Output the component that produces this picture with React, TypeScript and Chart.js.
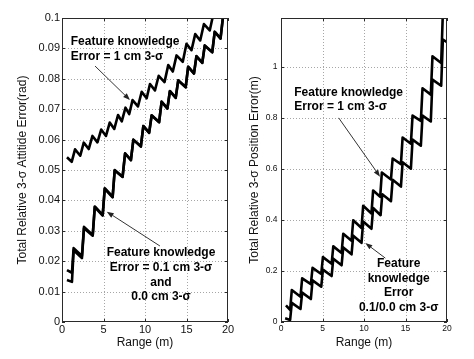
import React, { useEffect, useRef } from "react";
import { Chart, registerables } from "chart.js";

Chart.register(...registerables);

const FONT = "'Liberation Sans', Arial, Helvetica, sans-serif";

// ---------- shared axis data ----------
const RANGE_TICKS = [0, 5, 10, 15, 20];
const RANGE_TICK_LABELS = ["0", "5", "10", "15", "20"];

// ---------- left panel: attitude error (rad) ----------
const ATT_TICKS = [0, 0.01, 0.02, 0.03, 0.04, 0.05, 0.06, 0.07, 0.08, 0.09, 0.1];
const ATT_TICK_LABELS = ["0", "0.01", "0.02", "0.03", "0.04", "0.05", "0.06", "0.07", "0.08", "0.09", "0.1"];

// Feature knowledge error = 1 cm 3-sigma
const ATT_1CM_RANGE = [0.6, 1.17, 1.57, 2.2, 2.62, 3.22, 3.67, 4.27, 4.72, 5.3, 5.75, 6.3, 6.75, 7.2, 7.65, 8.1, 8.5, 9.15, 9.6, 10.2, 10.6, 11.2, 11.65, 12.35, 12.8, 13.35, 13.8, 14.55, 15.0, 15.6, 16.05, 16.65, 17.1, 17.8, 18.25];
const ATT_1CM_ERR = [0.0542, 0.0527, 0.0568, 0.0547, 0.059, 0.0569, 0.0612, 0.0591, 0.0633, 0.0612, 0.0656, 0.0635, 0.0681, 0.066, 0.0705, 0.0684, 0.073, 0.0709, 0.0757, 0.0736, 0.0783, 0.0762, 0.081, 0.0789, 0.0845, 0.0824, 0.0877, 0.0856, 0.0915, 0.0894, 0.0947, 0.0926, 0.098, 0.0959, 0.1015];

// Feature knowledge error = 0.1 cm 3-sigma
const ATT_01CM_RANGE = [0.6, 1.2, 1.4, 2.4, 2.65, 3.7, 3.95, 4.9, 5.15, 6.1, 6.35, 7.3, 7.6, 8.3, 8.6, 9.5, 9.8, 10.5, 10.8, 11.7, 12.0, 12.7, 13.0, 13.7, 14.0, 14.9, 15.2, 15.9, 16.2, 16.9, 17.2, 18.1, 18.4, 19.1, 19.4];
const ATT_01CM_ERR = [0.0171, 0.0162, 0.0243, 0.0217, 0.0313, 0.0286, 0.038, 0.0352, 0.044, 0.0412, 0.05, 0.0478, 0.0555, 0.0533, 0.06, 0.0578, 0.0645, 0.0623, 0.068, 0.0658, 0.0725, 0.0703, 0.076, 0.0738, 0.0795, 0.0773, 0.084, 0.0818, 0.0875, 0.0853, 0.091, 0.0888, 0.0955, 0.0933, 0.1005];

// Feature knowledge error = 0.0 cm 3-sigma
const ATT_00CM_RANGE = [0.6, 1.2, 1.4, 2.4, 2.65, 3.7, 3.95, 4.9, 5.15, 6.1, 6.35, 7.3, 7.6, 8.3, 8.6, 9.5, 9.8, 10.5, 10.8, 11.7, 12.0, 12.7, 13.0, 13.7, 14.0, 14.9, 15.2, 15.9, 16.2, 16.9, 17.2, 18.1, 18.4, 19.1, 19.4];
const ATT_00CM_ERR = [0.0138, 0.0132, 0.0236, 0.021, 0.0308, 0.0284, 0.0378, 0.035, 0.0438, 0.041, 0.0498, 0.0477, 0.0554, 0.0532, 0.0599, 0.0577, 0.0644, 0.0622, 0.0679, 0.0657, 0.0724, 0.0702, 0.0759, 0.0737, 0.0794, 0.0772, 0.0839, 0.0817, 0.0874, 0.0852, 0.0909, 0.0887, 0.0954, 0.0932, 0.1004];

// ---------- right panel: position error (m) ----------
const POS_TICKS = [0, 0.2, 0.4, 0.6, 0.8, 1];
const POS_TICK_LABELS = ["0", "0.2", "0.4", "0.6", "0.8", "1"];

const POS_1CM_RANGE = [0.6, 1.1, 1.3, 2.35, 2.55, 3.6, 3.8, 4.85, 5.05, 6.1, 6.3, 7.3, 7.5, 8.5, 8.7, 9.7, 9.9, 10.9, 11.1, 11.95, 12.15, 13.25, 13.45, 14.45, 14.65, 15.65, 15.85, 16.85, 17.05, 18.05, 18.25, 19.3, 19.5];
const POS_1CM_ERR = [0.065, 0.047, 0.125, 0.099, 0.171, 0.148, 0.212, 0.188, 0.254, 0.228, 0.296, 0.27, 0.345, 0.318, 0.398, 0.368, 0.455, 0.425, 0.515, 0.49, 0.585, 0.558, 0.64, 0.618, 0.722, 0.698, 0.808, 0.787, 0.915, 0.89, 1.04, 1.014, 1.21];

const POS_01CM_RANGE = [0.5, 1.1, 1.3, 2.35, 2.55, 3.6, 3.8, 4.85, 5.05, 6.1, 6.3, 7.3, 7.5, 8.5, 8.7, 9.7, 9.9, 10.9, 11.1, 12.0, 12.2, 13.25, 13.45, 14.45, 14.65, 15.65, 15.85, 16.85, 17.05, 18.05, 18.25, 19.3, 19.5, 20.0];
const POS_01CM_ERR = [0.0145, 0.008, 0.075, 0.051, 0.115, 0.09, 0.163, 0.138, 0.205, 0.18, 0.248, 0.222, 0.292, 0.265, 0.338, 0.31, 0.393, 0.365, 0.446, 0.418, 0.5, 0.473, 0.557, 0.53, 0.625, 0.6, 0.714, 0.69, 0.808, 0.785, 0.949, 0.925, 1.106, 1.095];

type Ann = { lines: string[]; x: number; y: number; align: "left" | "center"; lh: number };
type Arrow = { from: [number, number]; to: [number, number] };

const LEFT_ANNOTATIONS: Ann[] = [
  { lines: ["Feature knowledge", "Error = 1 cm 3-σ"], x: 1.05, y: 0.0921, align: "left", lh: 15 },
  { lines: ["Feature knowledge", "Error = 0.1 cm 3-σ", "and", "0.0 cm 3-σ"], x: 11.93, y: 0.0228, align: "center", lh: 14.8 },
];
const LEFT_ARROWS: Arrow[] = [
  { from: [3.98, 0.0842], to: [8.19, 0.073] },
  { from: [11.8, 0.025], to: [5.39, 0.0363] },
];
const RIGHT_ANNOTATIONS: Ann[] = [
  { lines: ["Feature knowledge", "Error = 1 cm 3-σ"], x: 1.6, y: 0.898, align: "left", lh: 14 },
  { lines: ["Feature", "knowledge", "Error", "0.1/0.0 cm 3-σ"], x: 14.18, y: 0.2275, align: "center", lh: 14.6 },
];
const RIGHT_ARROWS: Arrow[] = [
  { from: [6.95, 0.799], to: [11.93, 0.569] },
  { from: [12.57, 0.25], to: [10.16, 0.309] },
];

function pts(xs: number[], ys: number[]) {
  return xs.map((x, i) => ({ x, y: ys[i] }));
}

const matlabPlugin = {
  id: "matlab",
  beforeDatasetsDraw(chart: any) {
    const { ctx, chartArea: a } = chart;
    const xs = chart.scales.x;
    const ys = chart.scales.y;
    ctx.save();
    ctx.strokeStyle = "#a6a6a6";
    ctx.lineWidth = 1;
    ctx.setLineDash([1, 2]);
    for (const t of xs.ticks) {
      const px = Math.round(xs.getPixelForValue(t.value)) + 0.5;
      if (px <= a.left + 1.5 || px >= a.right - 1.5) continue;
      ctx.beginPath();
      ctx.moveTo(px, a.top);
      ctx.lineTo(px, a.bottom);
      ctx.stroke();
    }
    for (const t of ys.ticks) {
      const py = Math.round(ys.getPixelForValue(t.value)) + 0.5;
      if (py <= a.top + 1.5 || py >= a.bottom - 1.5) continue;
      ctx.beginPath();
      ctx.moveTo(a.left, py);
      ctx.lineTo(a.right, py);
      ctx.stroke();
    }
    ctx.restore();
  },
  afterDatasetsDraw(chart: any, _args: any, opts: any) {
    const { ctx, chartArea: a } = chart;
    const xs = chart.scales.x;
    const ys = chart.scales.y;
    ctx.save();
    ctx.setLineDash([]);
    ctx.strokeStyle = "#2a2a2a";
    ctx.lineWidth = 1;
    ctx.strokeRect(a.left + 0.5, a.top + 0.5, a.right - a.left - 1, a.bottom - a.top - 1);
    const tl = 3;
    ctx.beginPath();
    for (const t of xs.ticks) {
      const px = Math.round(xs.getPixelForValue(t.value)) + 0.5;
      ctx.moveTo(px, a.bottom);
      ctx.lineTo(px, a.bottom - tl);
      ctx.moveTo(px, a.top);
      ctx.lineTo(px, a.top + tl);
    }
    for (const t of ys.ticks) {
      const py = Math.round(ys.getPixelForValue(t.value)) + 0.5;
      ctx.moveTo(a.left, py);
      ctx.lineTo(a.left + tl, py);
      ctx.moveTo(a.right, py);
      ctx.lineTo(a.right - tl, py);
    }
    ctx.stroke();

    const arrows: Arrow[] = opts.arrows || [];
    ctx.strokeStyle = "#333";
    ctx.fillStyle = "#222";
    for (const ar of arrows) {
      const x1 = xs.getPixelForValue(ar.from[0]);
      const y1 = ys.getPixelForValue(ar.from[1]);
      const x2 = xs.getPixelForValue(ar.to[0]);
      const y2 = ys.getPixelForValue(ar.to[1]);
      const ang = Math.atan2(y2 - y1, x2 - x1);
      const hl = 7;
      const hw = 2.6;
      const bx = x2 - hl * Math.cos(ang);
      const by = y2 - hl * Math.sin(ang);
      ctx.beginPath();
      ctx.moveTo(x1, y1);
      ctx.lineTo(bx, by);
      ctx.stroke();
      ctx.beginPath();
      ctx.moveTo(x2, y2);
      ctx.lineTo(bx + hw * Math.sin(ang), by - hw * Math.cos(ang));
      ctx.lineTo(bx - hw * Math.sin(ang), by + hw * Math.cos(ang));
      ctx.closePath();
      ctx.fill();
    }
    const anns: Ann[] = opts.annotations || [];
    ctx.fillStyle = "#000";
    ctx.font = `bold 12px ${FONT}`;
    ctx.textBaseline = "middle";
    for (const an of anns) {
      const px = xs.getPixelForValue(an.x);
      const py = ys.getPixelForValue(an.y);
      ctx.textAlign = an.align;
      an.lines.forEach((ln, i) => ctx.fillText(ln, px, py + i * an.lh));
    }
    ctx.restore();
  },
};

type PanelCfg = {
  series: { x: number[]; y: number[] }[];
  yTicks: number[];
  yLabels: string[];
  yMax: number;
  yTitle: string;
  yWidth: number;
  padRight: number;
  tickSize: number;
  yTickPad: number;
  xTickPad: number;
  yTitlePad: number;
  annotations: Ann[];
  arrows: Arrow[];
};

function makeConfig(p: PanelCfg): any {
  return {
    type: "line",
    data: {
      datasets: p.series.map((s) => ({
        data: pts(s.x, s.y),
        borderColor: "#000",
        borderWidth: 2.6,
        pointRadius: 0,
        tension: 0,
        fill: false,
        clip: 0,
        borderJoinStyle: "round",
      })),
    },
    options: {
      animation: false,
      responsive: false,
      maintainAspectRatio: false,
      parsing: false,
      layout: { padding: { left: 0, top: 18, right: p.padRight, bottom: 0 } },
      plugins: {
        legend: { display: false },
        tooltip: { enabled: false },
        matlab: { annotations: p.annotations, arrows: p.arrows },
      },
      scales: {
        x: {
          type: "linear",
          min: 0,
          max: 20,
          afterBuildTicks: (s: any) => {
            s.ticks = RANGE_TICKS.map((v) => ({ value: v }));
          },
          afterFit: (s: any) => {
            s.height = 37;
          },
          ticks: {
            autoSkip: false,
            maxRotation: 0,
            padding: p.xTickPad,
            color: "#111",
            font: { family: FONT, size: p.tickSize },
            callback: (_v: any, i: number) => RANGE_TICK_LABELS[i],
          },
          grid: { display: false, drawTicks: false, tickLength: 0 },
          border: { display: false },
          title: {
            display: true,
            text: "Range (m)",
            color: "#111",
            font: { family: FONT, size: 12 },
            padding: { top: 0, bottom: 9 },
          },
        },
        y: {
          type: "linear",
          min: 0,
          max: p.yMax,
          afterBuildTicks: (s: any) => {
            s.ticks = p.yTicks.map((v) => ({ value: v }));
          },
          afterFit: (s: any) => {
            s.width = p.yWidth;
          },
          ticks: {
            autoSkip: false,
            padding: p.yTickPad,
            color: "#111",
            font: { family: FONT, size: p.tickSize },
            callback: (_v: any, i: number) => p.yLabels[i],
          },
          grid: { display: false, drawTicks: false, tickLength: 0 },
          border: { display: false },
          title: {
            display: true,
            text: p.yTitle,
            color: "#111",
            font: { family: FONT, size: 12 },
            padding: { top: p.yTitlePad, bottom: 0 },
          },
        },
      },
    },
    plugins: [matlabPlugin],
  };
}

const LEFT_PANEL: PanelCfg = {
  series: [
    { x: ATT_1CM_RANGE, y: ATT_1CM_ERR },
    { x: ATT_01CM_RANGE, y: ATT_01CM_ERR },
    { x: ATT_00CM_RANGE, y: ATT_00CM_ERR },
  ],
  yTicks: ATT_TICKS,
  yLabels: ATT_TICK_LABELS,
  yMax: 0.1,
  yTitle: "Total Relative 3-σ Attitide Error(rad)",
  yWidth: 62,
  padRight: 9,
  tickSize: 11,
  yTickPad: 2,
  xTickPad: 1.5,
  yTitlePad: 15.8,
  annotations: LEFT_ANNOTATIONS,
  arrows: LEFT_ARROWS,
};

const RIGHT_PANEL: PanelCfg = {
  series: [
    { x: POS_1CM_RANGE, y: POS_1CM_ERR },
    { x: POS_01CM_RANGE, y: POS_01CM_ERR },
  ],
  yTicks: POS_TICKS,
  yLabels: POS_TICK_LABELS,
  yMax: 1.19,
  yTitle: "Total Relative 3-σ Position Error(m)",
  yWidth: 44,
  padRight: 27,
  tickSize: 8.5,
  yTickPad: 3.5,
  xTickPad: 2,
  yTitlePad: 10.8,
  annotations: RIGHT_ANNOTATIONS,
  arrows: RIGHT_ARROWS,
};

function Panel({ cfg, left }: { cfg: PanelCfg; left: number }) {
  const ref = useRef<HTMLCanvasElement | null>(null);
  useEffect(() => {
    if (!ref.current) return;
    const chart = new Chart(ref.current, makeConfig(cfg));
    return () => chart.destroy();
  }, [cfg]);
  return (
    <canvas
      ref={ref}
      width={237}
      height={359}
      style={{ position: "absolute", left, top: 0, width: 237, height: 359, display: "block" }}
    />
  );
}

export default function App() {
  return (
    <div style={{ position: "absolute", left: 0, top: 0, width: 474, height: 359, background: "#fff", overflow: "hidden" }}>
      <Panel cfg={LEFT_PANEL} left={0} />
      <Panel cfg={RIGHT_PANEL} left={237} />
    </div>
  );
}
